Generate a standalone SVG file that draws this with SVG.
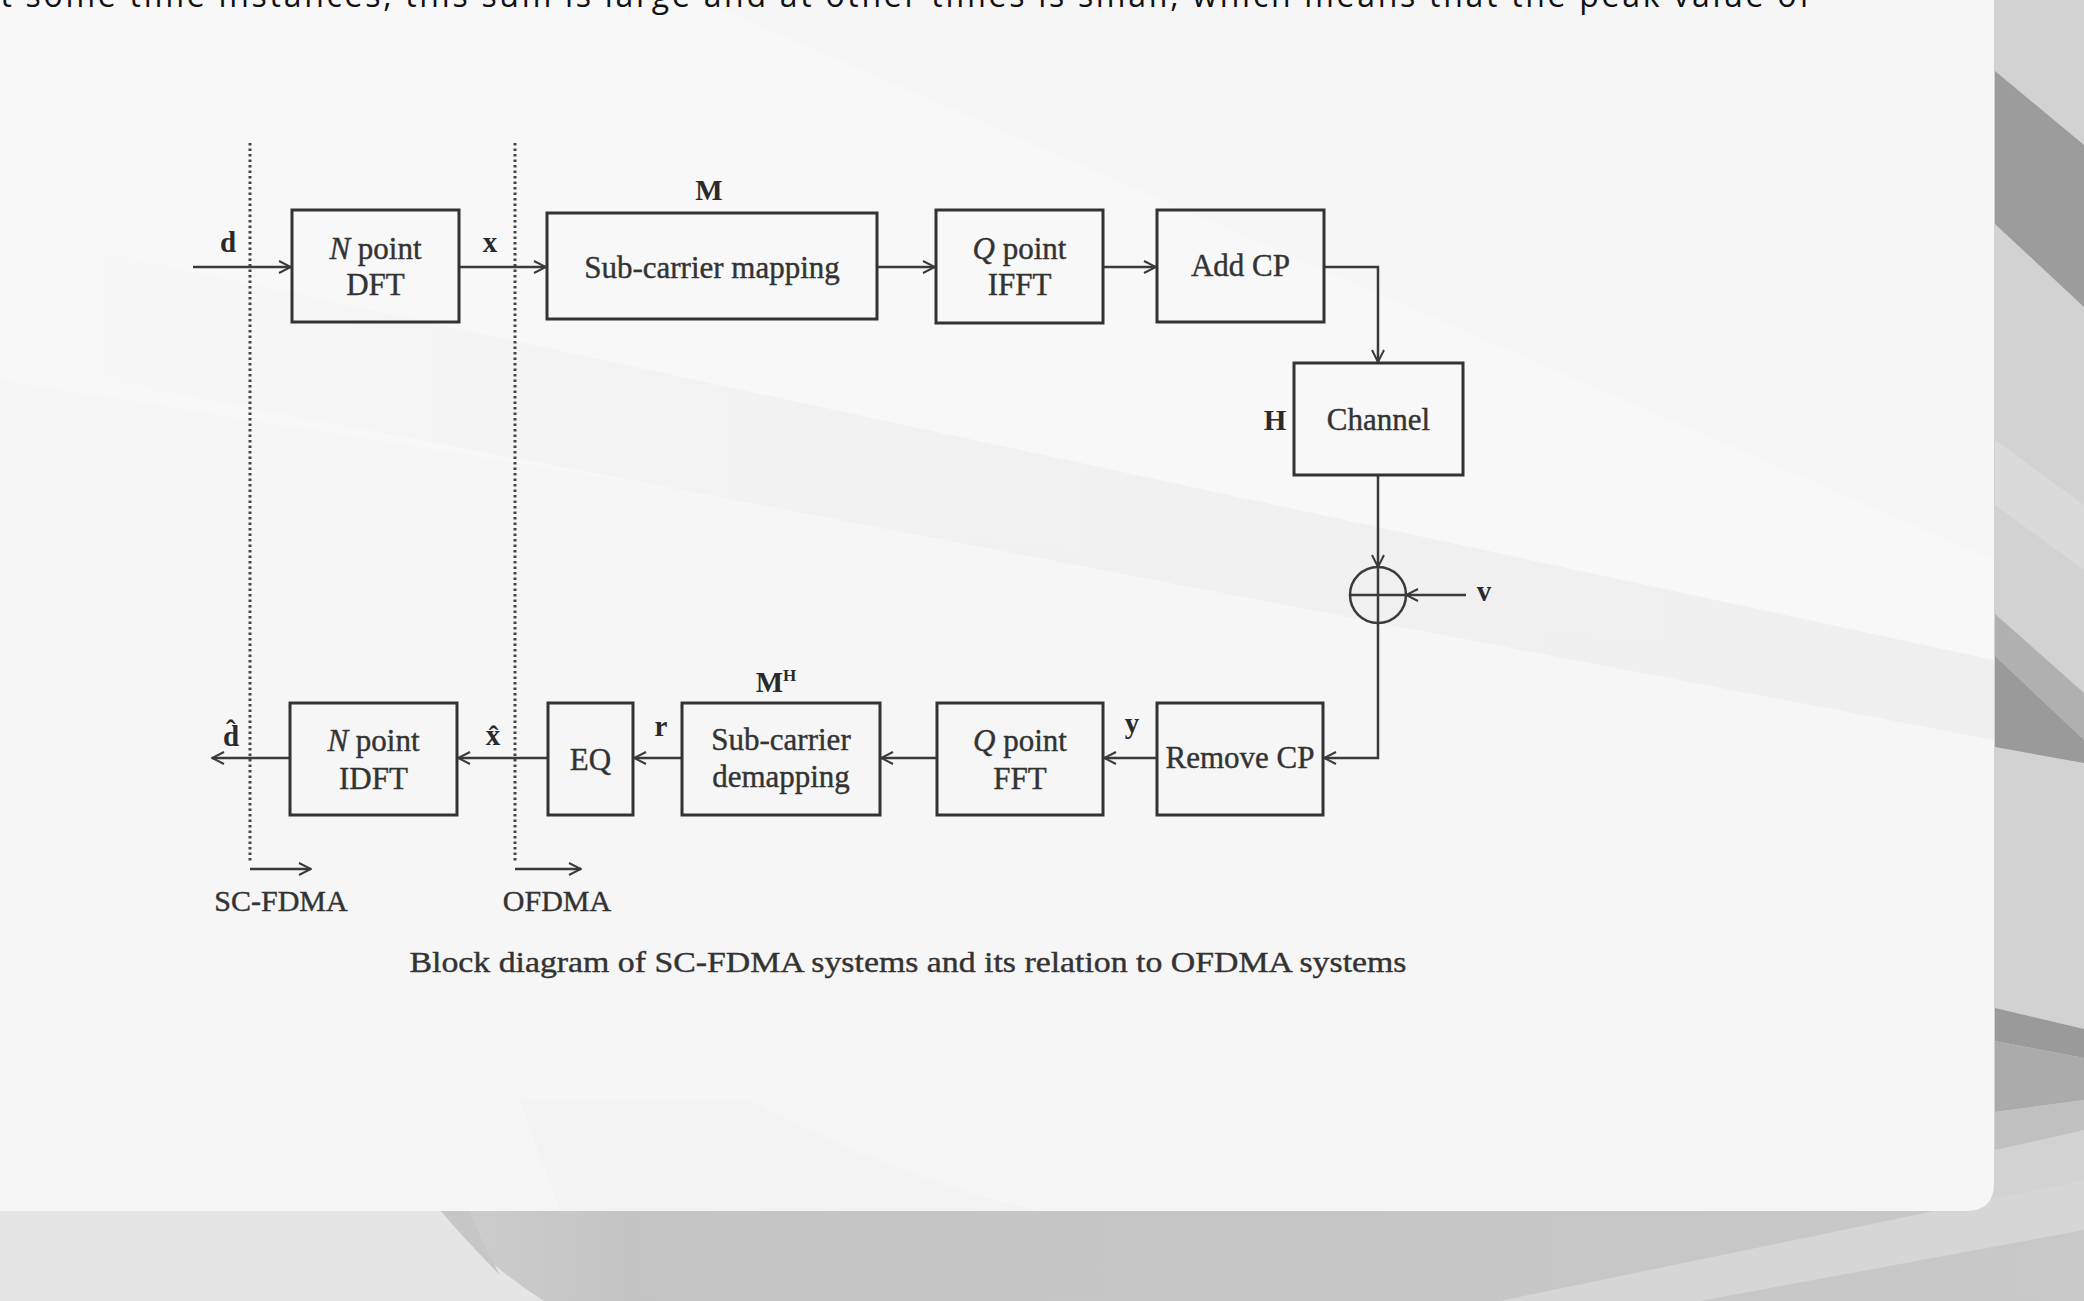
<svg xmlns="http://www.w3.org/2000/svg" width="2084" height="1301" viewBox="0 0 2084 1301">
<style>
.box{fill:none;stroke:#333;stroke-width:3}
.ln{fill:none;stroke:#3a3a3a;stroke-width:2.5}
.dot{fill:none;stroke:#444;stroke-width:3;stroke-dasharray:2.5 3}
.t{font-family:"Liberation Serif","Times New Roman",serif;font-size:31px;fill:#333;stroke:#333;stroke-width:0.4;text-anchor:middle}
.b{font-family:"Liberation Serif","Times New Roman",serif;font-size:29px;font-weight:bold;fill:#2a2a2a;text-anchor:middle}
.cap{font-family:"Liberation Serif","Times New Roman",serif;font-size:30px;fill:#333;stroke:#333;stroke-width:0.4;text-anchor:middle}
</style>
<defs>
<marker id="ah" viewBox="0 0 14 14" refX="13" refY="7" markerWidth="14" markerHeight="14" orient="auto" markerUnits="userSpaceOnUse">
<path d="M1,1 L13,7 L1,13" fill="none" stroke="#3a3a3a" stroke-width="2"/>
</marker>
<linearGradient id="gb" x1="0" y1="0" x2="1" y2="0">
<stop offset="0" stop-color="#e2e2e2"/>
<stop offset="0.3" stop-color="#c4c4c4"/>
<stop offset="1" stop-color="#c8c8c8"/>
</linearGradient>
<linearGradient id="band" x1="0" y1="0" x2="1" y2="0">
<stop offset="0" stop-color="#f1f1f1" stop-opacity="0"/>
<stop offset="0.4" stop-color="#f0f0f0" stop-opacity="0.8"/>
<stop offset="1" stop-color="#eeeeee" stop-opacity="0.9"/>
</linearGradient>
</defs>

<g id="background">
<rect x="0" y="0" width="2084" height="1301" fill="#d2d2d2"/>
<rect x="0" y="1211" width="2084" height="90" fill="url(#gb)"/>
<path d="M0,1211 H441 Q480,1260 544,1301 H0 Z" fill="#e5e5e5"/>
<path d="M441,1211 H470 Q480,1240 500,1275 Q470,1245 441,1211 Z" fill="#c6c6c6"/>
<polygon points="1500,1301 2084,1180 2084,1230 1700,1301" fill="#d6d6d6"/>
<polygon points="1995,71 2084,145 2084,307 1995,224" fill="#9c9c9c"/>
<polygon points="1995,440 2084,505 2084,570 1995,505" fill="#dadada"/>
<polygon points="1995,614 2084,693 2084,740 1995,656" fill="#b0b0b0"/>
<polygon points="1995,656 2084,740 2084,763 1995,747" fill="#9a9a9a"/>
<polygon points="1995,1008 2084,1029 2084,1058 1995,1041" fill="#9a9a9a"/>
<polygon points="1995,1041 2084,1058 2084,1100 1995,1112" fill="#ababab"/>
<polygon points="1995,1112 2084,1100 2084,1130 1995,1150" fill="#c0c0c0"/>
<path d="M0,0 H1994 V1183 Q1994,1211 1966,1211 H0 Z" fill="#f6f6f6"/>
<polygon points="0,0 700,0 1994,560 1994,700 0,380" fill="#f8f8f8"/>
<polygon points="0,230 1994,660 1994,740 0,360" fill="url(#band)"/>
<path d="M749,1100 Q900,1180 1040,1211 H560 L520,1100 Z" fill="#f2f2f2" opacity="0.6"/>
<text x="-20" y="7" font-family="'Open Sans','DejaVu Sans',sans-serif" font-size="32" fill="#111" textLength="1830" lengthAdjust="spacing">at some time instances, this sum is large and at other times is small, which means that the peak value of</text>
</g>

<g id="guides">
<line class="dot" x1="250" y1="143" x2="250" y2="863"/>
<line class="dot" x1="515" y1="143" x2="515" y2="863"/>
<line class="ln" x1="250" y1="869" x2="311" y2="869" marker-end="url(#ah)"/>
<line class="ln" x1="515" y1="869" x2="581" y2="869" marker-end="url(#ah)"/>
<text class="cap" x="281" y="911">SC-FDMA</text>
<text class="cap" x="557" y="911">OFDMA</text>
</g>

<g id="connectors">
<line class="ln" x1="193" y1="267" x2="291" y2="267" marker-end="url(#ah)"/>
<line class="ln" x1="459" y1="267" x2="546" y2="267" marker-end="url(#ah)"/>
<line class="ln" x1="877" y1="267" x2="935" y2="267" marker-end="url(#ah)"/>
<line class="ln" x1="1103" y1="267" x2="1156" y2="267" marker-end="url(#ah)"/>
<polyline class="ln" points="1324,267 1378,267 1378,362" marker-end="url(#ah)"/>
<line class="ln" x1="1378" y1="475" x2="1378" y2="567" marker-end="url(#ah)"/>
<line class="ln" x1="1466" y1="595" x2="1406" y2="595" marker-end="url(#ah)"/>
<polyline class="ln" points="1378,623 1378,758 1324,758" marker-end="url(#ah)"/>
<line class="ln" x1="1157" y1="758" x2="1104" y2="758" marker-end="url(#ah)"/>
<line class="ln" x1="937" y1="758" x2="881" y2="758" marker-end="url(#ah)"/>
<line class="ln" x1="682" y1="758" x2="634" y2="758" marker-end="url(#ah)"/>
<line class="ln" x1="548" y1="758" x2="458" y2="758" marker-end="url(#ah)"/>
<line class="ln" x1="290" y1="758" x2="212" y2="758" marker-end="url(#ah)"/>
</g>

<g id="n-dft">
<rect class="box" x="292" y="210" width="167" height="112"/>
<text class="t" x="375.5" y="259"><tspan font-style="italic">N</tspan> point</text>
<text class="t" x="375.5" y="295">DFT</text>
</g>
<g id="n-mapping">
<rect class="box" x="547" y="213" width="330" height="106"/>
<text class="t" x="712" y="278">Sub-carrier mapping</text>
</g>
<g id="n-ifft">
<rect class="box" x="936" y="210" width="167" height="113"/>
<text class="t" x="1019.5" y="259"><tspan font-style="italic">Q</tspan> point</text>
<text class="t" x="1019.5" y="295">IFFT</text>
</g>
<g id="n-addcp">
<rect class="box" x="1157" y="210" width="167" height="112"/>
<text class="t" x="1240.5" y="276">Add CP</text>
</g>
<g id="n-channel">
<rect class="box" x="1294" y="363" width="169" height="112"/>
<text class="t" x="1378.5" y="430">Channel</text>
</g>
<g id="n-sum">
<circle cx="1378" cy="595" r="28" fill="none" stroke="#3a3a3a" stroke-width="2.5"/>
<line class="ln" x1="1350" y1="595" x2="1406" y2="595"/>
<line class="ln" x1="1378" y1="567" x2="1378" y2="623"/>
</g>
<g id="n-removecp">
<rect class="box" x="1157" y="703" width="166" height="112"/>
<text class="t" x="1240" y="768">Remove CP</text>
</g>
<g id="n-fft">
<rect class="box" x="937" y="703" width="166" height="112"/>
<text class="t" x="1020" y="751"><tspan font-style="italic">Q</tspan> point</text>
<text class="t" x="1020" y="789">FFT</text>
</g>
<g id="n-demapping">
<rect class="box" x="682" y="703" width="198" height="112"/>
<text class="t" x="781" y="750">Sub-carrier</text>
<text class="t" x="781" y="787">demapping</text>
</g>
<g id="n-eq">
<rect class="box" x="548" y="703" width="85" height="112"/>
<text class="t" x="590.5" y="770">EQ</text>
</g>
<g id="n-idft">
<rect class="box" x="290" y="703" width="167" height="112"/>
<text class="t" x="373.5" y="751"><tspan font-style="italic">N</tspan> point</text>
<text class="t" x="373.5" y="789">IDFT</text>
</g>

<g id="labels">
<text class="b" x="228" y="252">d</text>
<text class="b" x="490" y="252">x</text>
<text class="b" x="709" y="200">M</text>
<text class="b" x="1275" y="430">H</text>
<text class="b" x="1484" y="601">v</text>
<text class="b" x="776" y="692">M<tspan font-size="17" dy="-11">H</tspan></text>
<text class="b" x="1132" y="733">y</text>
<text class="b" x="661" y="736">r</text>
<text class="b" x="493" y="745">x̂</text>
<text class="b" x="231" y="746">d̂</text>
</g>

<text class="cap" x="908" y="972" font-size="31" textLength="997" lengthAdjust="spacingAndGlyphs">Block diagram of SC-FDMA systems and its relation to OFDMA systems</text>
</svg>
